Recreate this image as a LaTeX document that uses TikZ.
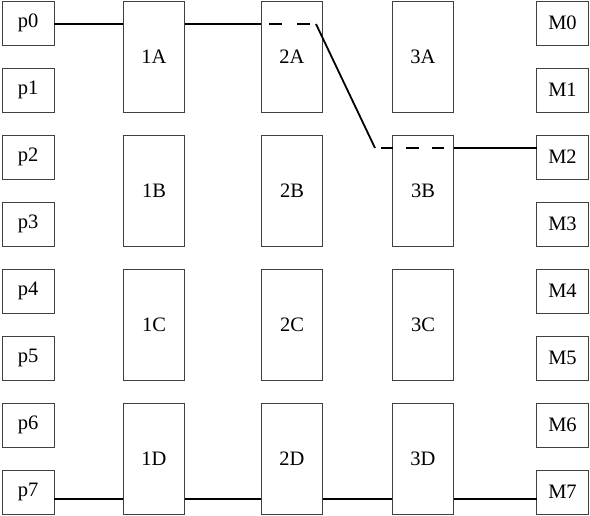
\documentclass[tikz,border=0pt]{standalone}
\usepackage{fontspec}
\setmainfont{Liberation Serif}
\begin{document}
\begin{tikzpicture}[x=1pt,y=-1pt,
  box/.style={draw=black!75,line width=0.8pt,fill=white,inner sep=0pt,outer sep=0pt,font=\fontsize{20.5}{24}\selectfont},
  pbox/.style={box,minimum width=52pt,minimum height=44pt},
  bigbox/.style={box,minimum width=61.5pt,minimum height=111pt},
  wire/.style={line width=1.8pt,black},
  dwire/.style={wire,dash pattern=on 12.5pt off 13pt,dash phase=20pt}]
\useasboundingbox (0,0) rectangle (590,516);
% left ports
\foreach \i/\y in {0/23,1/90,2/157,3/224,4/291,5/358,6/425,7/492}{
  \node[pbox] (p\i) at (28,\y) {p\i};
  \node[pbox] (M\i) at (562.5,\y) {M\i};
}
% switch columns
\foreach \c/\x in {1/154,2/292,3/423}{
  \foreach \r/\y in {A/56.5,B/190.5,C/324.5,D/458.5}{
    \node[bigbox] (\c\r) at (\x,\y) {\c\r};
  }
}
\coordinate (topy) at (0,24);
\coordinate (a) at (316,24);
\coordinate (b) at (375,148);
\coordinate (boty) at (0,499);
% top path
\draw[wire] (p0.east |- topy) -- (1A.west |- topy);
\draw[wire] (1A.east |- topy) -- (2A.west |- topy);
\draw[wire,dash pattern=on 13pt off 15pt,dash phase=20pt] (2A.west |- topy) -- (a);
\draw[wire] (a) -- (b);
\draw[dwire] (b) -- (3B.east |- b);
\draw[wire] (3B.east |- b) -- (M2.west |- b);
% bottom path
\draw[wire] (p7.east |- boty) -- (1D.west |- boty);
\draw[wire] (1D.east |- boty) -- (2D.west |- boty);
\draw[wire] (2D.east |- boty) -- (3D.west |- boty);
\draw[wire] (3D.east |- boty) -- (M7.west |- boty);
\end{tikzpicture}
\end{document}
